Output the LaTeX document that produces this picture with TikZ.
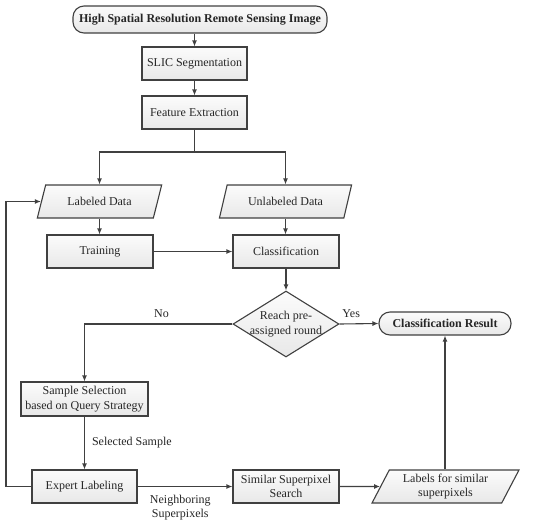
\documentclass[tikz,border=0pt]{standalone}
\usepackage{fontspec}
\setmainfont{Liberation Serif}
\usetikzlibrary{shapes.geometric,arrows.meta}
\definecolor{ln}{HTML}{404040}
\tikzset{
  base/.style={draw=ln, line width=1.1pt, top color=gray!3, bottom color=gray!18, inner sep=1pt, align=center, font=\fontsize{12}{14.5}\selectfont, text=black!85},
  procbox/.style={base, rectangle, minimum width=#1, minimum height=33pt},
  termbox/.style={base, rectangle, rounded corners=11pt, minimum height=#1},
  databox/.style={base, trapezium, trapezium left angle=64, trapezium right angle=116, trapezium stretches=true, minimum width=#1, minimum height=33pt},
  decbox/.style={base, diamond, minimum width=106pt, minimum height=66pt},
  arr/.style={draw=ln, line width=1.1pt, -{Latex[length=6pt,width=5pt]}},
  conn/.style={draw=ln, line width=1.1pt},
  lbl/.style={font=\fontsize{12}{14.5}\selectfont, text=black!85, inner sep=1pt, align=center}
}
\begin{document}
\begin{tikzpicture}[x=1pt,y=-1pt]
\path[use as bounding box] (0,0) rectangle (550,523);
\node[termbox=27pt, minimum width=254pt, font=\fontsize{12}{14.5}\selectfont\bfseries] (top) at (200,19.5) {High Spatial Resolution Remote Sensing Image};
\node[procbox=105pt] (slic) at (194.5,63.5) {SLIC Segmentation};
\node[procbox=105pt] (fe) at (194.5,112.5) {Feature Extraction};
\coordinate (split) at (194.5,152);
\node[databox=125pt] (ld) at (99.5,201.5) {Labeled Data};
\node[databox=133pt] (ud) at (285.5,201.5) {Unlabeled Data};
\node[procbox=106pt] (tr) at (100,251.5) {Training};
\node[procbox=106pt] (cl) at (286,251.5) {Classification};
\node[decbox] (dec) at (286,324) {};
\node[lbl] (dectext) at (286,324) {Reach pre-\\assigned round};
\node[termbox=23pt, minimum width=132pt, font=\fontsize{12}{14.5}\selectfont\bfseries] (cr) at (445,323.5) {Classification Result};
\node[procbox=127pt, minimum height=34pt] (ss) at (84.5,399) {Sample Selection\\based on Query Strategy};
\node[procbox=105pt] (el) at (84.5,486.5) {Expert Labeling};
\node[procbox=106pt] (sss) at (286,486.5) {Similar Superpixel\\Search};
\node[databox=147pt] (lab) at (445.5,486.5) {Labels for similar\\superpixels};
\coordinate (fb) at (6,486.5);

\draw[arr] (top.south -| slic.north) -- (slic.north);
\draw[arr] (slic) -- (fe);
\draw[conn] (fe.south) -- (split);
\draw[arr] (split) -| (ld.north);
\draw[arr] (split) -| (ud.north);
\draw[arr] (ld.south) -- (ld.south |- tr.north);
\draw[arr] (ud.south) -- (ud.south |- cl.north);
\draw[arr] (tr) -- (cl);
\draw[arr] (cl) -- (dec);
\draw[arr] (dec.east) -- (cr.west) node[lbl, pos=0.3, above=5pt] (yes) {Yes};
\draw[arr] (dec.west) -| (ss.north) node[lbl, pos=0.24, above=5pt] (no) {No};
\draw[arr] (ss) -- (el) node[lbl, midway, right=6pt] (sel) {Selected Sample};
\draw[arr] (el) -- (sss) node[lbl, pos=0.45, below=7pt] (nb) {Neighboring\\Superpixels};
\draw[arr] (sss) -- (lab);
\draw[arr] (lab.north -| cr.south) -- (cr.south);
\draw[arr] (el.west) -- (fb) |- (ld.west);
\end{tikzpicture}
\end{document}
